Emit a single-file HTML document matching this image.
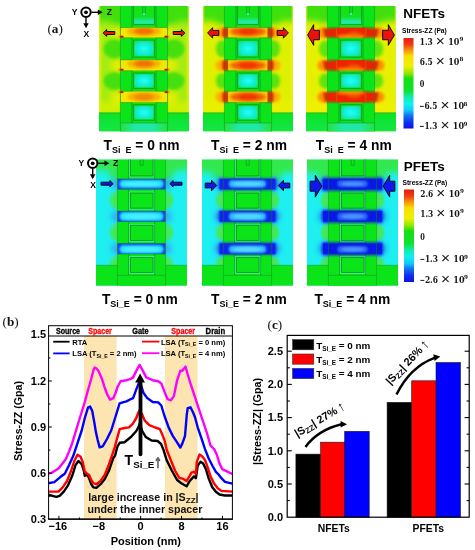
<!DOCTYPE html>
<html><head><meta charset="utf-8"><title>Stress figure</title>
<style>html,body{margin:0;padding:0;background:#fff;}svg{display:block;}</style></head>
<body><svg width="475" height="550" viewBox="0 0 475 550">
<defs>
<filter id="bl3" x="-20%" y="-20%" width="140%" height="140%"><feGaussianBlur stdDeviation="3"/></filter>
<filter id="bl1" x="-50%" y="-50%" width="200%" height="200%"><feGaussianBlur stdDeviation="0.9"/></filter>
<filter id="bl05" x="-50%" y="-50%" width="200%" height="200%"><feGaussianBlur stdDeviation="0.5"/></filter>
<radialGradient id="gcyanr" cx="0.5" cy="0.5" r="0.6"><stop offset="0" stop-color="#28fff0"/><stop offset="0.55" stop-color="#10f0dc"/><stop offset="0.85" stop-color="#12e8b0"/><stop offset="1" stop-color="#14e280"/></radialGradient>
<linearGradient id="gtopc" x1="0" y1="0" x2="0" y2="1"><stop offset="0" stop-color="#14e214"/><stop offset="0.6" stop-color="#14e220"/><stop offset="0.85" stop-color="#20eaa8"/><stop offset="1" stop-color="#20e890"/></linearGradient>
<filter id="bl15" x="-50%" y="-50%" width="200%" height="200%"><feGaussianBlur stdDeviation="1.2"/></filter>
<linearGradient id="gsdN" x1="0" y1="0" x2="0" y2="1"><stop offset="0" stop-color="#0ce424"/><stop offset="1" stop-color="#12e648"/></linearGradient>
<filter id="bl2" x="-30%" y="-30%" width="160%" height="160%"><feGaussianBlur stdDeviation="1.6"/></filter>
<linearGradient id="gcyan" x1="0" y1="0" x2="0" y2="1"><stop offset="0" stop-color="#20e8b0"/><stop offset="0.25" stop-color="#10ecd8"/><stop offset="0.75" stop-color="#10ecd8"/><stop offset="1" stop-color="#20e8b0"/></linearGradient>
<linearGradient id="gbotN" x1="0" y1="0" x2="1" y2="0"><stop offset="0" stop-color="#28e040"/><stop offset="0.3" stop-color="#20e8a8"/><stop offset="0.7" stop-color="#20e8a8"/><stop offset="1" stop-color="#28e040"/></linearGradient>
<linearGradient id="cbar" x1="0" y1="0" x2="0" y2="1"><stop offset="0" stop-color="#e81c10"/><stop offset="0.07" stop-color="#f03c10"/><stop offset="0.13" stop-color="#f88c10"/><stop offset="0.2" stop-color="#f8e000"/><stop offset="0.31" stop-color="#eef000"/><stop offset="0.39" stop-color="#90e800"/><stop offset="0.45" stop-color="#14e010"/><stop offset="0.58" stop-color="#10e030"/><stop offset="0.66" stop-color="#10eeb0"/><stop offset="0.73" stop-color="#10f0f0"/><stop offset="0.8" stop-color="#10c8f8"/><stop offset="0.86" stop-color="#1070f0"/><stop offset="0.93" stop-color="#1030f0"/><stop offset="1" stop-color="#1010e8"/></linearGradient>
<clipPath id="cpN0"><rect width="90" height="125.6"/></clipPath>
<clipPath id="cpN0_b0"><rect x="21.4" y="21.6" width="47.2" height="10.2"/></clipPath>
<clipPath id="cpN0_b1"><rect x="21.4" y="53.9" width="47.2" height="10.9"/></clipPath>
<clipPath id="cpN0_b2"><rect x="21.4" y="85.2" width="47.2" height="11.4"/></clipPath>
<clipPath id="cpN1"><rect width="90" height="125.6"/></clipPath>
<clipPath id="cpN1_b0"><rect x="25" y="21.6" width="39.7" height="10.2"/></clipPath>
<clipPath id="cpN1_b1"><rect x="25" y="53.9" width="39.7" height="10.9"/></clipPath>
<clipPath id="cpN1_b2"><rect x="25" y="85.2" width="39.7" height="11.4"/></clipPath>
<clipPath id="cpN2"><rect width="90" height="125.6"/></clipPath>
<clipPath id="cpN2_b0"><rect x="30.5" y="21.6" width="29.4" height="10.2"/></clipPath>
<clipPath id="cpN2_b1"><rect x="30.5" y="53.9" width="29.4" height="10.9"/></clipPath>
<clipPath id="cpN2_b2"><rect x="30.5" y="85.2" width="29.4" height="11.4"/></clipPath>
<clipPath id="cpP0"><rect width="91" height="126.3"/></clipPath>
<clipPath id="cpP0_b0"><rect x="21.4" y="19.4" width="48.2" height="10.6"/></clipPath>
<clipPath id="cpP0_b1"><rect x="21.4" y="51.6" width="48.2" height="10.6"/></clipPath>
<clipPath id="cpP0_b2"><rect x="21.4" y="83.8" width="48.2" height="10.8"/></clipPath>
<clipPath id="cpP1"><rect width="91" height="126.3"/></clipPath>
<clipPath id="cpP1_b0"><rect x="17.4" y="19.4" width="56.2" height="10.6"/></clipPath>
<clipPath id="cpP1_b1"><rect x="17.4" y="51.6" width="56.2" height="10.6"/></clipPath>
<clipPath id="cpP1_b2"><rect x="17.4" y="83.8" width="56.2" height="10.8"/></clipPath>
<clipPath id="cpP2"><rect width="91" height="126.3"/></clipPath>
<clipPath id="cpP2_b0"><rect x="15.9" y="19.4" width="59.2" height="10.6"/></clipPath>
<clipPath id="cpP2_b1"><rect x="15.9" y="51.6" width="59.2" height="10.6"/></clipPath>
<clipPath id="cpP2_b2"><rect x="15.9" y="83.8" width="59.2" height="10.8"/></clipPath>
<clipPath id="pclip"><rect x="48.6" y="336" width="183.8" height="183.2"/></clipPath>
</defs>
<rect width="475" height="550" fill="#fff"/>
<g transform="translate(99,6)">
<g clip-path="url(#cpN0)">
<rect width="90" height="125.6" fill="#a4ec10"/>
<g filter="url(#bl3)">
<rect x="-10" y="-10" width="110" height="25" fill="#40e010"/>
<ellipse cx="21.4" cy="10" rx="10" ry="13" fill="#40e010"/>
<ellipse cx="68.6" cy="10" rx="10" ry="13" fill="#40e010"/>
<ellipse cx="20.4" cy="26.7" rx="9" ry="6" fill="#e8f000"/>
<ellipse cx="69.6" cy="26.7" rx="9" ry="6" fill="#e8f000"/>
<ellipse cx="20.4" cy="59.35" rx="9" ry="6" fill="#e8f000"/>
<ellipse cx="69.6" cy="59.35" rx="9" ry="6" fill="#e8f000"/>
<ellipse cx="20.4" cy="90.9" rx="9" ry="6" fill="#e8f000"/>
<ellipse cx="69.6" cy="90.9" rx="9" ry="6" fill="#e8f000"/>
<rect x="-5" y="95.8" width="100" height="12" fill="#d0f000"/>
</g>
<g filter="url(#bl2)">
<ellipse cx="15.4" cy="42.85" rx="11" ry="9.55" fill="#44e010"/>
<ellipse cx="74.6" cy="42.85" rx="11" ry="9.55" fill="#44e010"/>
<ellipse cx="15.4" cy="75" rx="11" ry="8.7" fill="#44e010"/>
<ellipse cx="74.6" cy="75" rx="11" ry="8.7" fill="#44e010"/>
<rect x="-3" y="20" width="5" height="86.8" fill="#d4f000"/>
<rect x="88" y="20" width="5" height="86.8" fill="#d4f000"/>
</g>
<rect x="0" y="0" width="1.3" height="106.8" fill="#d8f030" opacity="0.7"/>
<rect x="88.7" y="0" width="1.3" height="106.8" fill="#d8f030" opacity="0.7"/>
<rect x="0" y="106.8" width="90" height="18.8" fill="url(#gsdN)"/>
<rect x="21.4" y="0" width="47.2" height="125.6" fill="#0ce41a"/>
<line x1="33" y1="-1" x2="33" y2="21.6" stroke="#128a1e" stroke-width="0.7"/>
<line x1="57" y1="-1" x2="57" y2="21.6" stroke="#128a1e" stroke-width="0.7"/>
<rect x="34.7" y="-1" width="20.6" height="19.4" fill="url(#gtopc)" stroke="#128a1e" stroke-width="0.7"/>
<line x1="33" y1="31.8" x2="33" y2="53.9" stroke="#128a1e" stroke-width="0.7"/>
<line x1="57" y1="31.8" x2="57" y2="53.9" stroke="#128a1e" stroke-width="0.7"/>
<rect x="34.7" y="34" width="20.6" height="17.1" fill="#0ce41a" stroke="#128a1e" stroke-width="0.7"/>
<rect x="35.4" y="35.2" width="19.2" height="14.9" fill="url(#gcyanr)"/>
<line x1="33" y1="64.8" x2="33" y2="85.2" stroke="#128a1e" stroke-width="0.7"/>
<line x1="57" y1="64.8" x2="57" y2="85.2" stroke="#128a1e" stroke-width="0.7"/>
<rect x="34.7" y="67" width="20.6" height="15.4" fill="#0ce41a" stroke="#128a1e" stroke-width="0.7"/>
<rect x="35.4" y="68.2" width="19.2" height="13.2" fill="url(#gcyanr)"/>
<line x1="33" y1="96.6" x2="33" y2="117" stroke="#128a1e" stroke-width="0.7"/>
<line x1="57" y1="96.6" x2="57" y2="117" stroke="#128a1e" stroke-width="0.7"/>
<rect x="34.7" y="98.8" width="20.6" height="15.4" fill="#0ce41a" stroke="#128a1e" stroke-width="0.7"/>
<rect x="35.4" y="100" width="19.2" height="13.2" fill="url(#gcyanr)"/>
<line x1="43.7" y1="-1" x2="43.7" y2="8" stroke="#128a1e" stroke-width="0.6"/>
<line x1="46.3" y1="-1" x2="46.3" y2="8" stroke="#128a1e" stroke-width="0.6"/>
<ellipse cx="45" cy="8" rx="1.3" ry="1" fill="#30f0e0" filter="url(#bl05)"/>
<rect x="21.4" y="117" width="47.2" height="8.6" fill="url(#gbotN)"/>
<g clip-path="url(#cpN0_b0)">
<rect x="21.4" y="21.6" width="47.2" height="10.2" fill="#f4e800"/>
<g filter="url(#bl2)">
<ellipse cx="45" cy="25.2" rx="17" ry="5" fill="#f4b000"/>
<ellipse cx="45" cy="25.2" rx="10" ry="3.6" fill="#f07000"/>
</g></g>
<g filter="url(#bl05)">
<ellipse cx="21.9" cy="30.8" rx="3" ry="1.8" fill="#f0a000" opacity="0.6"/>
<ellipse cx="68.1" cy="30.8" rx="3" ry="1.8" fill="#f0a000" opacity="0.6"/>
<ellipse cx="22.6" cy="30.8" rx="2.0" ry="1.0" fill="#d80000"/>
<ellipse cx="67.4" cy="30.8" rx="2.0" ry="1.0" fill="#d80000"/>
</g>
<rect x="21.4" y="21.6" width="47.2" height="10.2" fill="none" stroke="#b08000" stroke-opacity="0.45" stroke-width="0.6"/>
<g clip-path="url(#cpN0_b1)">
<rect x="21.4" y="53.9" width="47.2" height="10.9" fill="#f4e800"/>
<g filter="url(#bl2)">
<ellipse cx="45" cy="57.7" rx="17" ry="5" fill="#f4b000"/>
<ellipse cx="45" cy="57.7" rx="10" ry="3.6" fill="#f07000"/>
</g></g>
<g filter="url(#bl05)">
<ellipse cx="21.9" cy="63.8" rx="3" ry="1.8" fill="#f0a000" opacity="0.6"/>
<ellipse cx="68.1" cy="63.8" rx="3" ry="1.8" fill="#f0a000" opacity="0.6"/>
<ellipse cx="22.6" cy="63.8" rx="2.0" ry="1.0" fill="#d80000"/>
<ellipse cx="67.4" cy="63.8" rx="2.0" ry="1.0" fill="#d80000"/>
</g>
<rect x="21.4" y="53.9" width="47.2" height="10.9" fill="none" stroke="#b08000" stroke-opacity="0.45" stroke-width="0.6"/>
<g clip-path="url(#cpN0_b2)">
<rect x="21.4" y="85.2" width="47.2" height="11.4" fill="#f4e800"/>
<g filter="url(#bl2)">
<ellipse cx="45" cy="90.9" rx="17" ry="5" fill="#f4b000"/>
<ellipse cx="45" cy="90.9" rx="10" ry="3.6" fill="#f08800"/>
</g></g>
<g filter="url(#bl05)">
<ellipse cx="21.9" cy="86.1" rx="3" ry="1.8" fill="#f0a000" opacity="0.6"/>
<ellipse cx="68.1" cy="86.1" rx="3" ry="1.8" fill="#f0a000" opacity="0.6"/>
<ellipse cx="22.6" cy="86.1" rx="2.0" ry="1.0" fill="#d80000"/>
<ellipse cx="67.4" cy="86.1" rx="2.0" ry="1.0" fill="#d80000"/>
</g>
<rect x="21.4" y="85.2" width="47.2" height="11.4" fill="none" stroke="#b08000" stroke-opacity="0.45" stroke-width="0.6"/>
<line x1="21.4" y1="0" x2="21.4" y2="125.6" stroke="#128a1e" stroke-width="0.6" stroke-opacity="0.8"/>
<line x1="68.6" y1="0" x2="68.6" y2="125.6" stroke="#128a1e" stroke-width="0.6" stroke-opacity="0.8"/>
<line x1="21.4" y1="21.6" x2="33" y2="21.6" stroke="#128a1e" stroke-width="0.5" stroke-opacity="0.55"/>
<line x1="57" y1="21.6" x2="68.6" y2="21.6" stroke="#128a1e" stroke-width="0.5" stroke-opacity="0.55"/>
<line x1="21.4" y1="31.8" x2="33" y2="31.8" stroke="#128a1e" stroke-width="0.5" stroke-opacity="0.55"/>
<line x1="57" y1="31.8" x2="68.6" y2="31.8" stroke="#128a1e" stroke-width="0.5" stroke-opacity="0.55"/>
<line x1="21.4" y1="53.9" x2="33" y2="53.9" stroke="#128a1e" stroke-width="0.5" stroke-opacity="0.55"/>
<line x1="57" y1="53.9" x2="68.6" y2="53.9" stroke="#128a1e" stroke-width="0.5" stroke-opacity="0.55"/>
<line x1="21.4" y1="64.8" x2="33" y2="64.8" stroke="#128a1e" stroke-width="0.5" stroke-opacity="0.55"/>
<line x1="57" y1="64.8" x2="68.6" y2="64.8" stroke="#128a1e" stroke-width="0.5" stroke-opacity="0.55"/>
<line x1="21.4" y1="85.2" x2="33" y2="85.2" stroke="#128a1e" stroke-width="0.5" stroke-opacity="0.55"/>
<line x1="57" y1="85.2" x2="68.6" y2="85.2" stroke="#128a1e" stroke-width="0.5" stroke-opacity="0.55"/>
<line x1="21.4" y1="96.6" x2="33" y2="96.6" stroke="#128a1e" stroke-width="0.5" stroke-opacity="0.55"/>
<line x1="57" y1="96.6" x2="68.6" y2="96.6" stroke="#128a1e" stroke-width="0.5" stroke-opacity="0.55"/>
<line x1="0" y1="106.8" x2="21.4" y2="106.8" stroke="#128a1e" stroke-width="0.6" stroke-opacity="0.8"/>
<line x1="68.6" y1="106.8" x2="90" y2="106.8" stroke="#128a1e" stroke-width="0.6" stroke-opacity="0.8"/>
<line x1="21.4" y1="117" x2="68.6" y2="117" stroke="#128a1e" stroke-width="0.6" stroke-opacity="0.8"/>
</g>
<polygon points="4.1,27 7.7,23.6 7.7,25.5 15.8,25.5 15.8,28.5 7.7,28.5 7.7,30.4" fill="#ec1010" stroke="#000" stroke-width="0.9" stroke-linejoin="miter"/>
<polygon points="85.9,27 82.3,23.6 82.3,25.5 74.2,25.5 74.2,28.5 82.3,28.5 82.3,30.4" fill="#ec1010" stroke="#000" stroke-width="0.9"/>
</g>
<g transform="translate(203,6)">
<g clip-path="url(#cpN1)">
<rect width="90" height="125.6" fill="#dcf000"/>
<g filter="url(#bl3)">
<rect x="-10" y="-10" width="110" height="25" fill="#40e010"/>
<ellipse cx="21.4" cy="10" rx="10" ry="13" fill="#40e010"/>
<ellipse cx="68.6" cy="10" rx="10" ry="13" fill="#40e010"/>
<ellipse cx="20.4" cy="26.7" rx="10" ry="7" fill="#f4f000"/>
<ellipse cx="69.6" cy="26.7" rx="10" ry="7" fill="#f4f000"/>
<ellipse cx="20.4" cy="59.35" rx="10" ry="7" fill="#f4f000"/>
<ellipse cx="69.6" cy="59.35" rx="10" ry="7" fill="#f4f000"/>
<ellipse cx="20.4" cy="90.9" rx="10" ry="7" fill="#f4f000"/>
<ellipse cx="69.6" cy="90.9" rx="10" ry="7" fill="#f4f000"/>
<rect x="-5" y="95.8" width="100" height="12" fill="#eaf000"/>
</g>
<g filter="url(#bl2)">
<ellipse cx="19.4" cy="42.85" rx="6.5" ry="8.85" fill="#58e410"/>
<ellipse cx="70.6" cy="42.85" rx="6.5" ry="8.85" fill="#58e410"/>
<ellipse cx="19.4" cy="75" rx="6.5" ry="8" fill="#58e410"/>
<ellipse cx="70.6" cy="75" rx="6.5" ry="8" fill="#58e410"/>
<rect x="-3" y="20" width="5" height="86.8" fill="#eef000"/>
<rect x="88" y="20" width="5" height="86.8" fill="#eef000"/>
<ellipse cx="17.4" cy="26.7" rx="5" ry="5.5" fill="#f8b000"/>
<ellipse cx="72.6" cy="26.7" rx="5" ry="5.5" fill="#f8b000"/>
<ellipse cx="17.4" cy="59.35" rx="5" ry="5.5" fill="#f8b000"/>
<ellipse cx="72.6" cy="59.35" rx="5" ry="5.5" fill="#f8b000"/>
<ellipse cx="17.4" cy="90.9" rx="5" ry="5.5" fill="#f8b000"/>
<ellipse cx="72.6" cy="90.9" rx="5" ry="5.5" fill="#f8b000"/>
</g>
<rect x="0" y="0" width="1.3" height="106.8" fill="#d8f030" opacity="0.7"/>
<rect x="88.7" y="0" width="1.3" height="106.8" fill="#d8f030" opacity="0.7"/>
<rect x="0" y="106.8" width="90" height="18.8" fill="url(#gsdN)"/>
<rect x="21.4" y="0" width="47.2" height="125.6" fill="#0ce41a"/>
<line x1="33" y1="-1" x2="33" y2="21.6" stroke="#128a1e" stroke-width="0.7"/>
<line x1="57" y1="-1" x2="57" y2="21.6" stroke="#128a1e" stroke-width="0.7"/>
<rect x="34.7" y="-1" width="20.6" height="19.4" fill="url(#gtopc)" stroke="#128a1e" stroke-width="0.7"/>
<line x1="33" y1="31.8" x2="33" y2="53.9" stroke="#128a1e" stroke-width="0.7"/>
<line x1="57" y1="31.8" x2="57" y2="53.9" stroke="#128a1e" stroke-width="0.7"/>
<rect x="34.7" y="34" width="20.6" height="17.1" fill="#0ce41a" stroke="#128a1e" stroke-width="0.7"/>
<rect x="35.4" y="35.2" width="19.2" height="14.9" fill="url(#gcyanr)"/>
<line x1="33" y1="64.8" x2="33" y2="85.2" stroke="#128a1e" stroke-width="0.7"/>
<line x1="57" y1="64.8" x2="57" y2="85.2" stroke="#128a1e" stroke-width="0.7"/>
<rect x="34.7" y="67" width="20.6" height="15.4" fill="#0ce41a" stroke="#128a1e" stroke-width="0.7"/>
<rect x="35.4" y="68.2" width="19.2" height="13.2" fill="url(#gcyanr)"/>
<line x1="33" y1="96.6" x2="33" y2="117" stroke="#128a1e" stroke-width="0.7"/>
<line x1="57" y1="96.6" x2="57" y2="117" stroke="#128a1e" stroke-width="0.7"/>
<rect x="34.7" y="98.8" width="20.6" height="15.4" fill="#0ce41a" stroke="#128a1e" stroke-width="0.7"/>
<rect x="35.4" y="100" width="19.2" height="13.2" fill="url(#gcyanr)"/>
<line x1="43.7" y1="-1" x2="43.7" y2="8" stroke="#128a1e" stroke-width="0.6"/>
<line x1="46.3" y1="-1" x2="46.3" y2="8" stroke="#128a1e" stroke-width="0.6"/>
<ellipse cx="45" cy="8" rx="1.3" ry="1" fill="#30f0e0" filter="url(#bl05)"/>
<rect x="21.4" y="117" width="47.2" height="8.6" fill="url(#gbotN)"/>
<g filter="url(#bl15)">
<rect x="19.3" y="21.8" width="6.7" height="9.8" rx="2" fill="#e82800"/>
<rect x="63.7" y="21.8" width="6.9" height="9.8" rx="2" fill="#e82800"/>
</g>
<g clip-path="url(#cpN1_b0)">
<rect x="25" y="21.6" width="39.7" height="10.2" fill="#f8d000"/>
<g filter="url(#bl2)">
<ellipse cx="45" cy="25.6" rx="18" ry="4.8" fill="#f06000"/>
<ellipse cx="45" cy="25.6" rx="10" ry="3.2" fill="#f03000"/>
</g></g>
<rect x="25" y="21.6" width="39.7" height="10.2" fill="none" stroke="#b08000" stroke-opacity="0.45" stroke-width="0.6"/>
<g filter="url(#bl15)">
<rect x="19.3" y="54.1" width="6.7" height="10.5" rx="2" fill="#e82800"/>
<rect x="63.7" y="54.1" width="6.9" height="10.5" rx="2" fill="#e82800"/>
</g>
<g clip-path="url(#cpN1_b1)">
<rect x="25" y="53.9" width="39.7" height="10.9" fill="#f8d000"/>
<g filter="url(#bl2)">
<ellipse cx="45" cy="59.35" rx="18" ry="4.8" fill="#f06000"/>
<ellipse cx="45" cy="59.35" rx="10" ry="3.2" fill="#f03000"/>
</g></g>
<rect x="25" y="53.9" width="39.7" height="10.9" fill="none" stroke="#b08000" stroke-opacity="0.45" stroke-width="0.6"/>
<g filter="url(#bl15)">
<rect x="19.3" y="85.4" width="6.7" height="11" rx="2" fill="#e82800"/>
<rect x="63.7" y="85.4" width="6.9" height="11" rx="2" fill="#e82800"/>
</g>
<g clip-path="url(#cpN1_b2)">
<rect x="25" y="85.2" width="39.7" height="11.4" fill="#f8d000"/>
<g filter="url(#bl2)">
<ellipse cx="45" cy="90.9" rx="18" ry="4.8" fill="#f06000"/>
<ellipse cx="45" cy="90.9" rx="10" ry="3.2" fill="#f03000"/>
</g></g>
<rect x="25" y="85.2" width="39.7" height="11.4" fill="none" stroke="#b08000" stroke-opacity="0.45" stroke-width="0.6"/>
<line x1="21.4" y1="0" x2="21.4" y2="125.6" stroke="#128a1e" stroke-width="0.6" stroke-opacity="0.8"/>
<line x1="68.6" y1="0" x2="68.6" y2="125.6" stroke="#128a1e" stroke-width="0.6" stroke-opacity="0.8"/>
<line x1="21.4" y1="21.6" x2="33" y2="21.6" stroke="#128a1e" stroke-width="0.5" stroke-opacity="0.55"/>
<line x1="57" y1="21.6" x2="68.6" y2="21.6" stroke="#128a1e" stroke-width="0.5" stroke-opacity="0.55"/>
<line x1="21.4" y1="31.8" x2="33" y2="31.8" stroke="#128a1e" stroke-width="0.5" stroke-opacity="0.55"/>
<line x1="57" y1="31.8" x2="68.6" y2="31.8" stroke="#128a1e" stroke-width="0.5" stroke-opacity="0.55"/>
<line x1="21.4" y1="53.9" x2="33" y2="53.9" stroke="#128a1e" stroke-width="0.5" stroke-opacity="0.55"/>
<line x1="57" y1="53.9" x2="68.6" y2="53.9" stroke="#128a1e" stroke-width="0.5" stroke-opacity="0.55"/>
<line x1="21.4" y1="64.8" x2="33" y2="64.8" stroke="#128a1e" stroke-width="0.5" stroke-opacity="0.55"/>
<line x1="57" y1="64.8" x2="68.6" y2="64.8" stroke="#128a1e" stroke-width="0.5" stroke-opacity="0.55"/>
<line x1="21.4" y1="85.2" x2="33" y2="85.2" stroke="#128a1e" stroke-width="0.5" stroke-opacity="0.55"/>
<line x1="57" y1="85.2" x2="68.6" y2="85.2" stroke="#128a1e" stroke-width="0.5" stroke-opacity="0.55"/>
<line x1="21.4" y1="96.6" x2="33" y2="96.6" stroke="#128a1e" stroke-width="0.5" stroke-opacity="0.55"/>
<line x1="57" y1="96.6" x2="68.6" y2="96.6" stroke="#128a1e" stroke-width="0.5" stroke-opacity="0.55"/>
<line x1="0" y1="106.8" x2="21.4" y2="106.8" stroke="#128a1e" stroke-width="0.6" stroke-opacity="0.8"/>
<line x1="68.6" y1="106.8" x2="90" y2="106.8" stroke="#128a1e" stroke-width="0.6" stroke-opacity="0.8"/>
<line x1="21.4" y1="117" x2="68.6" y2="117" stroke="#128a1e" stroke-width="0.6" stroke-opacity="0.8"/>
</g>
<polygon points="4.6,26.9 9.6,21.65 9.6,24.4 15.9,24.4 15.9,29.4 9.6,29.4 9.6,32.15" fill="#ec1010" stroke="#000" stroke-width="0.9" stroke-linejoin="miter"/>
<polygon points="85.4,26.9 80.4,21.65 80.4,24.4 74.1,24.4 74.1,29.4 80.4,29.4 80.4,32.15" fill="#ec1010" stroke="#000" stroke-width="0.9"/>
</g>
<g transform="translate(306,6)">
<g clip-path="url(#cpN2)">
<rect width="90" height="125.6" fill="#e4f000"/>
<g filter="url(#bl3)">
<rect x="-10" y="-10" width="110" height="25" fill="#40e010"/>
<ellipse cx="21.4" cy="10" rx="10" ry="13" fill="#40e010"/>
<ellipse cx="68.6" cy="10" rx="10" ry="13" fill="#40e010"/>
<ellipse cx="20.4" cy="26.7" rx="12" ry="8" fill="#f6f000"/>
<ellipse cx="69.6" cy="26.7" rx="12" ry="8" fill="#f6f000"/>
<ellipse cx="20.4" cy="59.35" rx="12" ry="8" fill="#f6f000"/>
<ellipse cx="69.6" cy="59.35" rx="12" ry="8" fill="#f6f000"/>
<ellipse cx="20.4" cy="90.9" rx="12" ry="8" fill="#f6f000"/>
<ellipse cx="69.6" cy="90.9" rx="12" ry="8" fill="#f6f000"/>
<rect x="-5" y="95.8" width="100" height="12" fill="#f0f000"/>
</g>
<g filter="url(#bl2)">
<ellipse cx="19.4" cy="42.85" rx="6.5" ry="8.55" fill="#60e410"/>
<ellipse cx="70.6" cy="42.85" rx="6.5" ry="8.55" fill="#60e410"/>
<ellipse cx="19.4" cy="75" rx="6.5" ry="7.7" fill="#60e410"/>
<ellipse cx="70.6" cy="75" rx="6.5" ry="7.7" fill="#60e410"/>
<rect x="-3" y="20" width="5" height="86.8" fill="#f0f000"/>
<rect x="88" y="20" width="5" height="86.8" fill="#f0f000"/>
<ellipse cx="17.4" cy="26.7" rx="6" ry="5.5" fill="#f89000"/>
<ellipse cx="72.6" cy="26.7" rx="6" ry="5.5" fill="#f89000"/>
<ellipse cx="17.4" cy="59.35" rx="6" ry="5.5" fill="#f89000"/>
<ellipse cx="72.6" cy="59.35" rx="6" ry="5.5" fill="#f89000"/>
<ellipse cx="17.4" cy="90.9" rx="6" ry="5.5" fill="#f89000"/>
<ellipse cx="72.6" cy="90.9" rx="6" ry="5.5" fill="#f89000"/>
</g>
<rect x="0" y="0" width="1.3" height="106.8" fill="#d8f030" opacity="0.7"/>
<rect x="88.7" y="0" width="1.3" height="106.8" fill="#d8f030" opacity="0.7"/>
<rect x="0" y="106.8" width="90" height="18.8" fill="url(#gsdN)"/>
<rect x="21.4" y="0" width="47.2" height="125.6" fill="#0ce41a"/>
<line x1="33" y1="-1" x2="33" y2="21.6" stroke="#128a1e" stroke-width="0.7"/>
<line x1="57" y1="-1" x2="57" y2="21.6" stroke="#128a1e" stroke-width="0.7"/>
<rect x="34.7" y="-1" width="20.6" height="19.4" fill="url(#gtopc)" stroke="#128a1e" stroke-width="0.7"/>
<line x1="33" y1="31.8" x2="33" y2="53.9" stroke="#128a1e" stroke-width="0.7"/>
<line x1="57" y1="31.8" x2="57" y2="53.9" stroke="#128a1e" stroke-width="0.7"/>
<rect x="34.7" y="34" width="20.6" height="17.1" fill="#0ce41a" stroke="#128a1e" stroke-width="0.7"/>
<rect x="35.4" y="35.2" width="19.2" height="14.9" fill="url(#gcyanr)"/>
<line x1="33" y1="64.8" x2="33" y2="85.2" stroke="#128a1e" stroke-width="0.7"/>
<line x1="57" y1="64.8" x2="57" y2="85.2" stroke="#128a1e" stroke-width="0.7"/>
<rect x="34.7" y="67" width="20.6" height="15.4" fill="#0ce41a" stroke="#128a1e" stroke-width="0.7"/>
<rect x="35.4" y="68.2" width="19.2" height="13.2" fill="url(#gcyanr)"/>
<line x1="33" y1="96.6" x2="33" y2="117" stroke="#128a1e" stroke-width="0.7"/>
<line x1="57" y1="96.6" x2="57" y2="117" stroke="#128a1e" stroke-width="0.7"/>
<rect x="34.7" y="98.8" width="20.6" height="15.4" fill="#0ce41a" stroke="#128a1e" stroke-width="0.7"/>
<rect x="35.4" y="100" width="19.2" height="13.2" fill="url(#gcyanr)"/>
<line x1="43.7" y1="-1" x2="43.7" y2="8" stroke="#128a1e" stroke-width="0.6"/>
<line x1="46.3" y1="-1" x2="46.3" y2="8" stroke="#128a1e" stroke-width="0.6"/>
<ellipse cx="45" cy="8" rx="1.3" ry="1" fill="#30f0e0" filter="url(#bl05)"/>
<rect x="21.4" y="117" width="47.2" height="8.6" fill="url(#gbotN)"/>
<g filter="url(#bl15)">
<path d="M31.5,21.8 L17,22.8 L19,31.3 L31.5,31.6 Z" fill="#ea2000"/>
<path d="M58.9,21.8 L72.7,22.8 L70.7,31.3 L58.9,31.6 Z" fill="#ea2000"/>
</g>
<g clip-path="url(#cpN2_b0)">
<rect x="30.5" y="21.6" width="29.4" height="10.2" fill="#f89800"/>
<g filter="url(#bl2)">
<rect x="28.5" y="19.6" width="33.4" height="14.2" fill="#f02400"/>
<ellipse cx="45" cy="31" rx="13.7" ry="1.8" fill="#f8a000"/>
<ellipse cx="48" cy="28.2" rx="6" ry="2.4" fill="#f06000" opacity="0.8"/>
</g></g>
<rect x="30.5" y="21.6" width="29.4" height="10.2" fill="none" stroke="#b08000" stroke-opacity="0.45" stroke-width="0.6"/>
<g filter="url(#bl15)">
<path d="M31.5,54.1 L17,55.1 L19,64.3 L31.5,64.6 Z" fill="#ea2000"/>
<path d="M58.9,54.1 L72.7,55.1 L70.7,64.3 L58.9,64.6 Z" fill="#ea2000"/>
</g>
<g clip-path="url(#cpN2_b1)">
<rect x="30.5" y="53.9" width="29.4" height="10.9" fill="#f89800"/>
<g filter="url(#bl2)">
<rect x="28.5" y="51.9" width="33.4" height="14.9" fill="#f02400"/>
<ellipse cx="45" cy="64" rx="13.7" ry="1.8" fill="#f8a000"/>
<ellipse cx="48" cy="60.85" rx="6" ry="2.4" fill="#f06000" opacity="0.8"/>
</g></g>
<rect x="30.5" y="53.9" width="29.4" height="10.9" fill="none" stroke="#b08000" stroke-opacity="0.45" stroke-width="0.6"/>
<g filter="url(#bl15)">
<path d="M31.5,85.4 L17,86.4 L19,96.1 L31.5,96.4 Z" fill="#ea2000"/>
<path d="M58.9,85.4 L72.7,86.4 L70.7,96.1 L58.9,96.4 Z" fill="#ea2000"/>
</g>
<g clip-path="url(#cpN2_b2)">
<rect x="30.5" y="85.2" width="29.4" height="11.4" fill="#f89800"/>
<g filter="url(#bl2)">
<rect x="28.5" y="83.2" width="33.4" height="15.4" fill="#f02400"/>
<ellipse cx="45" cy="86" rx="13.7" ry="1.8" fill="#f8a000"/>
<ellipse cx="48" cy="89.4" rx="6" ry="2.4" fill="#f06000" opacity="0.8"/>
</g></g>
<rect x="30.5" y="85.2" width="29.4" height="11.4" fill="none" stroke="#b08000" stroke-opacity="0.45" stroke-width="0.6"/>
<line x1="21.4" y1="0" x2="21.4" y2="125.6" stroke="#128a1e" stroke-width="0.6" stroke-opacity="0.8"/>
<line x1="68.6" y1="0" x2="68.6" y2="125.6" stroke="#128a1e" stroke-width="0.6" stroke-opacity="0.8"/>
<line x1="21.4" y1="21.6" x2="33" y2="21.6" stroke="#128a1e" stroke-width="0.5" stroke-opacity="0.55"/>
<line x1="57" y1="21.6" x2="68.6" y2="21.6" stroke="#128a1e" stroke-width="0.5" stroke-opacity="0.55"/>
<line x1="21.4" y1="31.8" x2="33" y2="31.8" stroke="#128a1e" stroke-width="0.5" stroke-opacity="0.55"/>
<line x1="57" y1="31.8" x2="68.6" y2="31.8" stroke="#128a1e" stroke-width="0.5" stroke-opacity="0.55"/>
<line x1="21.4" y1="53.9" x2="33" y2="53.9" stroke="#128a1e" stroke-width="0.5" stroke-opacity="0.55"/>
<line x1="57" y1="53.9" x2="68.6" y2="53.9" stroke="#128a1e" stroke-width="0.5" stroke-opacity="0.55"/>
<line x1="21.4" y1="64.8" x2="33" y2="64.8" stroke="#128a1e" stroke-width="0.5" stroke-opacity="0.55"/>
<line x1="57" y1="64.8" x2="68.6" y2="64.8" stroke="#128a1e" stroke-width="0.5" stroke-opacity="0.55"/>
<line x1="21.4" y1="85.2" x2="33" y2="85.2" stroke="#128a1e" stroke-width="0.5" stroke-opacity="0.55"/>
<line x1="57" y1="85.2" x2="68.6" y2="85.2" stroke="#128a1e" stroke-width="0.5" stroke-opacity="0.55"/>
<line x1="21.4" y1="96.6" x2="33" y2="96.6" stroke="#128a1e" stroke-width="0.5" stroke-opacity="0.55"/>
<line x1="57" y1="96.6" x2="68.6" y2="96.6" stroke="#128a1e" stroke-width="0.5" stroke-opacity="0.55"/>
<line x1="0" y1="106.8" x2="21.4" y2="106.8" stroke="#128a1e" stroke-width="0.6" stroke-opacity="0.8"/>
<line x1="68.6" y1="106.8" x2="90" y2="106.8" stroke="#128a1e" stroke-width="0.6" stroke-opacity="0.8"/>
<line x1="21.4" y1="117" x2="68.6" y2="117" stroke="#128a1e" stroke-width="0.6" stroke-opacity="0.8"/>
</g>
<polygon points="1.6,29 7.7,18.65 7.7,24.25 13.4,24.25 13.4,33.75 7.7,33.75 7.7,39.35" fill="#ec1010" stroke="#000" stroke-width="0.9" stroke-linejoin="miter"/>
<polygon points="88.4,29 82.3,18.65 82.3,24.25 76.6,24.25 76.6,33.75 82.3,33.75 82.3,39.35" fill="#ec1010" stroke="#000" stroke-width="0.9"/>
</g>
<g transform="translate(96,159.5)">
<g clip-path="url(#cpP0)">
<rect width="91" height="126.3" fill="#1ef0f2"/>
<g filter="url(#bl3)">
<rect x="-10" y="-10" width="111" height="21" fill="#30e850"/>
<ellipse cx="21.4" cy="9" rx="9" ry="13" fill="#30e850"/>
<ellipse cx="69.6" cy="9" rx="9" ry="13" fill="#30e850"/>
</g>
<g filter="url(#bl2)">
<ellipse cx="19.9" cy="40.8" rx="6" ry="8.3" fill="#44e858"/>
<ellipse cx="71.1" cy="40.8" rx="6" ry="8.3" fill="#44e858"/>
<ellipse cx="19.9" cy="73" rx="6" ry="8.3" fill="#44e858"/>
<ellipse cx="71.1" cy="73" rx="6" ry="8.3" fill="#44e858"/>
<ellipse cx="19.9" cy="105.2" rx="6" ry="8.1" fill="#44e858"/>
<ellipse cx="71.1" cy="105.2" rx="6" ry="8.1" fill="#44e858"/>
</g>
<g filter="url(#bl3)">
<ellipse cx="20.4" cy="24.7" rx="4.5" ry="5.5" fill="#3c98f4"/>
<ellipse cx="70.6" cy="24.7" rx="4.5" ry="5.5" fill="#3c98f4"/>
<ellipse cx="20.4" cy="56.9" rx="4.5" ry="5.5" fill="#3c98f4"/>
<ellipse cx="70.6" cy="56.9" rx="4.5" ry="5.5" fill="#3c98f4"/>
<ellipse cx="20.4" cy="89.2" rx="4.5" ry="5.5" fill="#3c98f4"/>
<ellipse cx="70.6" cy="89.2" rx="4.5" ry="5.5" fill="#3c98f4"/>
</g>
<rect x="0" y="105.8" width="91" height="20.5" fill="#0ce41a"/>
<rect x="21.4" y="0" width="48.2" height="126.3" fill="#0ce41a"/>
<line x1="32.8" y1="-1" x2="32.8" y2="19.4" stroke="#128a1e" stroke-width="0.7"/>
<line x1="58.6" y1="-1" x2="58.6" y2="19.4" stroke="#128a1e" stroke-width="0.7"/>
<rect x="33.5" y="-2.1" width="24.4" height="19.6" fill="none" stroke="#58f0c8" stroke-width="0.8" opacity="0.8"/>
<rect x="34.4" y="-1" width="22.6" height="17.4" fill="none" stroke="#128a1e" stroke-width="0.7"/>
<line x1="32.8" y1="30" x2="32.8" y2="51.6" stroke="#128a1e" stroke-width="0.7"/>
<line x1="58.6" y1="30" x2="58.6" y2="51.6" stroke="#128a1e" stroke-width="0.7"/>
<rect x="33.5" y="32.5" width="24.4" height="17.2" fill="none" stroke="#58f0c8" stroke-width="0.8" opacity="0.8"/>
<rect x="34.4" y="33.6" width="22.6" height="15" fill="none" stroke="#128a1e" stroke-width="0.7"/>
<line x1="32.8" y1="62.2" x2="32.8" y2="83.8" stroke="#128a1e" stroke-width="0.7"/>
<line x1="58.6" y1="62.2" x2="58.6" y2="83.8" stroke="#128a1e" stroke-width="0.7"/>
<rect x="33.5" y="64.7" width="24.4" height="17.2" fill="none" stroke="#58f0c8" stroke-width="0.8" opacity="0.8"/>
<rect x="34.4" y="65.8" width="22.6" height="15" fill="none" stroke="#128a1e" stroke-width="0.7"/>
<line x1="32.8" y1="94.6" x2="32.8" y2="115.8" stroke="#128a1e" stroke-width="0.7"/>
<line x1="58.6" y1="94.6" x2="58.6" y2="115.8" stroke="#128a1e" stroke-width="0.7"/>
<rect x="33.5" y="97.1" width="24.4" height="16.8" fill="none" stroke="#58f0c8" stroke-width="0.8" opacity="0.8"/>
<rect x="34.4" y="98.2" width="22.6" height="14.6" fill="none" stroke="#128a1e" stroke-width="0.7"/>
<line x1="44.2" y1="-1" x2="44.2" y2="5.8" stroke="#128a1e" stroke-width="0.6"/>
<line x1="47.2" y1="-1" x2="47.2" y2="5.8" stroke="#128a1e" stroke-width="0.6"/>
<line x1="44.2" y1="5.8" x2="47.2" y2="5.8" stroke="#128a1e" stroke-width="0.6"/>
<rect x="21.4" y="115.8" width="48.2" height="10.5" fill="#0ce41a"/>
<g clip-path="url(#cpP0_b0)">
<rect x="21.4" y="19.4" width="48.2" height="10.6" fill="#1a3cf0"/>
<g filter="url(#bl1)">
<rect x="23.6" y="20.4" width="43.8" height="7.8" rx="3.9" fill="#20e4ff"/>
<ellipse cx="45.7" cy="24.3" rx="17.9" ry="2.9" fill="#40f0ff"/>
</g></g>
<rect x="21.4" y="19.4" width="48.2" height="10.6" fill="none" stroke="#0010a0" stroke-opacity="0.3" stroke-width="0.6"/>
<g clip-path="url(#cpP0_b1)">
<rect x="21.4" y="51.6" width="48.2" height="10.6" fill="#1a3cf0"/>
<g filter="url(#bl1)">
<rect x="23.6" y="52.6" width="43.8" height="8.6" rx="4.3" fill="#20e4ff"/>
<ellipse cx="45.7" cy="56.9" rx="17.9" ry="3.3" fill="#40f0ff"/>
</g></g>
<rect x="21.4" y="51.6" width="48.2" height="10.6" fill="none" stroke="#0010a0" stroke-opacity="0.3" stroke-width="0.6"/>
<g clip-path="url(#cpP0_b2)">
<rect x="21.4" y="83.8" width="48.2" height="10.8" fill="#1a3cf0"/>
<g filter="url(#bl1)">
<rect x="23.6" y="85.8" width="43.8" height="8.1" rx="4.05" fill="#20e4ff"/>
<ellipse cx="45.7" cy="89.85" rx="17.9" ry="3.05" fill="#40f0ff"/>
</g></g>
<rect x="21.4" y="83.8" width="48.2" height="10.8" fill="none" stroke="#0010a0" stroke-opacity="0.3" stroke-width="0.6"/>
<line x1="21.4" y1="0" x2="21.4" y2="126.3" stroke="#128a1e" stroke-width="0.6" stroke-opacity="0.8"/>
<line x1="69.6" y1="0" x2="69.6" y2="126.3" stroke="#128a1e" stroke-width="0.6" stroke-opacity="0.8"/>
<line x1="21.4" y1="19.4" x2="32.8" y2="19.4" stroke="#128a1e" stroke-width="0.5" stroke-opacity="0.55"/>
<line x1="58.6" y1="19.4" x2="69.6" y2="19.4" stroke="#128a1e" stroke-width="0.5" stroke-opacity="0.55"/>
<line x1="21.4" y1="30" x2="32.8" y2="30" stroke="#128a1e" stroke-width="0.5" stroke-opacity="0.55"/>
<line x1="58.6" y1="30" x2="69.6" y2="30" stroke="#128a1e" stroke-width="0.5" stroke-opacity="0.55"/>
<line x1="21.4" y1="51.6" x2="32.8" y2="51.6" stroke="#128a1e" stroke-width="0.5" stroke-opacity="0.55"/>
<line x1="58.6" y1="51.6" x2="69.6" y2="51.6" stroke="#128a1e" stroke-width="0.5" stroke-opacity="0.55"/>
<line x1="21.4" y1="62.2" x2="32.8" y2="62.2" stroke="#128a1e" stroke-width="0.5" stroke-opacity="0.55"/>
<line x1="58.6" y1="62.2" x2="69.6" y2="62.2" stroke="#128a1e" stroke-width="0.5" stroke-opacity="0.55"/>
<line x1="21.4" y1="83.8" x2="32.8" y2="83.8" stroke="#128a1e" stroke-width="0.5" stroke-opacity="0.55"/>
<line x1="58.6" y1="83.8" x2="69.6" y2="83.8" stroke="#128a1e" stroke-width="0.5" stroke-opacity="0.55"/>
<line x1="21.4" y1="94.6" x2="32.8" y2="94.6" stroke="#128a1e" stroke-width="0.5" stroke-opacity="0.55"/>
<line x1="58.6" y1="94.6" x2="69.6" y2="94.6" stroke="#128a1e" stroke-width="0.5" stroke-opacity="0.55"/>
<line x1="0" y1="105.8" x2="21.4" y2="105.8" stroke="#128a1e" stroke-width="0.6" stroke-opacity="0.8"/>
<line x1="69.6" y1="105.8" x2="91" y2="105.8" stroke="#128a1e" stroke-width="0.6" stroke-opacity="0.8"/>
<line x1="21.4" y1="115.8" x2="69.6" y2="115.8" stroke="#128a1e" stroke-width="0.6" stroke-opacity="0.8"/>
</g>
<polygon points="17.1,24.2 13.9,21.05 13.9,22.7 5,22.7 5,25.7 13.9,25.7 13.9,27.35" fill="#1018ec" stroke="#000" stroke-width="0.9"/>
<polygon points="73.9,24.2 77.1,21.05 77.1,22.7 86,22.7 86,25.7 77.1,25.7 77.1,27.35" fill="#1018ec" stroke="#000" stroke-width="0.9"/>
</g>
<g transform="translate(202,159.5)">
<g clip-path="url(#cpP1)">
<rect width="91" height="126.3" fill="#1ef0f2"/>
<g filter="url(#bl3)">
<rect x="-10" y="-10" width="111" height="23" fill="#30e850"/>
<ellipse cx="21.4" cy="9" rx="12" ry="13" fill="#30e850"/>
<ellipse cx="69.6" cy="9" rx="12" ry="13" fill="#30e850"/>
</g>
<g filter="url(#bl2)">
<ellipse cx="19.9" cy="40.8" rx="6" ry="8.3" fill="#44e858"/>
<ellipse cx="71.1" cy="40.8" rx="6" ry="8.3" fill="#44e858"/>
<ellipse cx="19.9" cy="73" rx="6" ry="8.3" fill="#44e858"/>
<ellipse cx="71.1" cy="73" rx="6" ry="8.3" fill="#44e858"/>
<ellipse cx="19.9" cy="105.2" rx="6" ry="8.1" fill="#44e858"/>
<ellipse cx="71.1" cy="105.2" rx="6" ry="8.1" fill="#44e858"/>
</g>
<g filter="url(#bl3)">
<ellipse cx="20.4" cy="24.7" rx="7" ry="5.5" fill="#2c70f0"/>
<ellipse cx="70.6" cy="24.7" rx="7" ry="5.5" fill="#2c70f0"/>
<ellipse cx="20.4" cy="56.9" rx="7" ry="5.5" fill="#2c70f0"/>
<ellipse cx="70.6" cy="56.9" rx="7" ry="5.5" fill="#2c70f0"/>
<ellipse cx="20.4" cy="89.2" rx="7" ry="5.5" fill="#2c70f0"/>
<ellipse cx="70.6" cy="89.2" rx="7" ry="5.5" fill="#2c70f0"/>
</g>
<rect x="0" y="105.8" width="91" height="20.5" fill="#0ce41a"/>
<rect x="21.4" y="0" width="48.2" height="126.3" fill="#0ce41a"/>
<line x1="32.8" y1="-1" x2="32.8" y2="19.4" stroke="#128a1e" stroke-width="0.7"/>
<line x1="58.6" y1="-1" x2="58.6" y2="19.4" stroke="#128a1e" stroke-width="0.7"/>
<rect x="33.5" y="-2.1" width="24.4" height="19.6" fill="none" stroke="#58f0c8" stroke-width="0.8" opacity="0.8"/>
<rect x="34.4" y="-1" width="22.6" height="17.4" fill="none" stroke="#128a1e" stroke-width="0.7"/>
<line x1="32.8" y1="30" x2="32.8" y2="51.6" stroke="#128a1e" stroke-width="0.7"/>
<line x1="58.6" y1="30" x2="58.6" y2="51.6" stroke="#128a1e" stroke-width="0.7"/>
<rect x="33.5" y="32.5" width="24.4" height="17.2" fill="none" stroke="#58f0c8" stroke-width="0.8" opacity="0.8"/>
<rect x="34.4" y="33.6" width="22.6" height="15" fill="none" stroke="#128a1e" stroke-width="0.7"/>
<line x1="32.8" y1="62.2" x2="32.8" y2="83.8" stroke="#128a1e" stroke-width="0.7"/>
<line x1="58.6" y1="62.2" x2="58.6" y2="83.8" stroke="#128a1e" stroke-width="0.7"/>
<rect x="33.5" y="64.7" width="24.4" height="17.2" fill="none" stroke="#58f0c8" stroke-width="0.8" opacity="0.8"/>
<rect x="34.4" y="65.8" width="22.6" height="15" fill="none" stroke="#128a1e" stroke-width="0.7"/>
<line x1="32.8" y1="94.6" x2="32.8" y2="115.8" stroke="#128a1e" stroke-width="0.7"/>
<line x1="58.6" y1="94.6" x2="58.6" y2="115.8" stroke="#128a1e" stroke-width="0.7"/>
<rect x="33.5" y="97.1" width="24.4" height="16.8" fill="none" stroke="#58f0c8" stroke-width="0.8" opacity="0.8"/>
<rect x="34.4" y="98.2" width="22.6" height="14.6" fill="none" stroke="#128a1e" stroke-width="0.7"/>
<line x1="44.2" y1="-1" x2="44.2" y2="5.8" stroke="#128a1e" stroke-width="0.6"/>
<line x1="47.2" y1="-1" x2="47.2" y2="5.8" stroke="#128a1e" stroke-width="0.6"/>
<line x1="44.2" y1="5.8" x2="47.2" y2="5.8" stroke="#128a1e" stroke-width="0.6"/>
<rect x="21.4" y="115.8" width="48.2" height="10.5" fill="#0ce41a"/>
<rect x="16.6" y="18.6" width="57.8" height="12.2" rx="2" fill="#1834ec" filter="url(#bl1)" opacity="0.85"/>
<g clip-path="url(#cpP1_b0)">
<rect x="17.4" y="19.4" width="56.2" height="10.6" fill="#1024ec"/>
<g filter="url(#bl1)">
<rect x="26.9" y="20.7" width="37.2" height="7.2" rx="3.6" fill="#30b8ff"/>
<ellipse cx="45.7" cy="24.3" rx="14.6" ry="2.6" fill="#50d8ff"/>
</g></g>
<rect x="21.4" y="19.4" width="48.2" height="10.6" fill="none" stroke="#0010a0" stroke-opacity="0.3" stroke-width="0.6"/>
<rect x="16.6" y="50.8" width="57.8" height="12.2" rx="2" fill="#1834ec" filter="url(#bl1)" opacity="0.85"/>
<g clip-path="url(#cpP1_b1)">
<rect x="17.4" y="51.6" width="56.2" height="10.6" fill="#1024ec"/>
<g filter="url(#bl1)">
<rect x="26.9" y="52.9" width="37.2" height="8" rx="4" fill="#30b8ff"/>
<ellipse cx="45.7" cy="56.9" rx="14.6" ry="3" fill="#50d8ff"/>
</g></g>
<rect x="21.4" y="51.6" width="48.2" height="10.6" fill="none" stroke="#0010a0" stroke-opacity="0.3" stroke-width="0.6"/>
<rect x="16.6" y="83" width="57.8" height="12.4" rx="2" fill="#1834ec" filter="url(#bl1)" opacity="0.85"/>
<g clip-path="url(#cpP1_b2)">
<rect x="17.4" y="83.8" width="56.2" height="10.8" fill="#1024ec"/>
<g filter="url(#bl1)">
<rect x="26.9" y="86.1" width="37.2" height="7.5" rx="3.75" fill="#30b8ff"/>
<ellipse cx="45.7" cy="89.85" rx="14.6" ry="2.75" fill="#50d8ff"/>
</g></g>
<rect x="21.4" y="83.8" width="48.2" height="10.8" fill="none" stroke="#0010a0" stroke-opacity="0.3" stroke-width="0.6"/>
<line x1="21.4" y1="0" x2="21.4" y2="126.3" stroke="#128a1e" stroke-width="0.6" stroke-opacity="0.8"/>
<line x1="69.6" y1="0" x2="69.6" y2="126.3" stroke="#128a1e" stroke-width="0.6" stroke-opacity="0.8"/>
<line x1="21.4" y1="19.4" x2="32.8" y2="19.4" stroke="#128a1e" stroke-width="0.5" stroke-opacity="0.55"/>
<line x1="58.6" y1="19.4" x2="69.6" y2="19.4" stroke="#128a1e" stroke-width="0.5" stroke-opacity="0.55"/>
<line x1="21.4" y1="30" x2="32.8" y2="30" stroke="#128a1e" stroke-width="0.5" stroke-opacity="0.55"/>
<line x1="58.6" y1="30" x2="69.6" y2="30" stroke="#128a1e" stroke-width="0.5" stroke-opacity="0.55"/>
<line x1="21.4" y1="51.6" x2="32.8" y2="51.6" stroke="#128a1e" stroke-width="0.5" stroke-opacity="0.55"/>
<line x1="58.6" y1="51.6" x2="69.6" y2="51.6" stroke="#128a1e" stroke-width="0.5" stroke-opacity="0.55"/>
<line x1="21.4" y1="62.2" x2="32.8" y2="62.2" stroke="#128a1e" stroke-width="0.5" stroke-opacity="0.55"/>
<line x1="58.6" y1="62.2" x2="69.6" y2="62.2" stroke="#128a1e" stroke-width="0.5" stroke-opacity="0.55"/>
<line x1="21.4" y1="83.8" x2="32.8" y2="83.8" stroke="#128a1e" stroke-width="0.5" stroke-opacity="0.55"/>
<line x1="58.6" y1="83.8" x2="69.6" y2="83.8" stroke="#128a1e" stroke-width="0.5" stroke-opacity="0.55"/>
<line x1="21.4" y1="94.6" x2="32.8" y2="94.6" stroke="#128a1e" stroke-width="0.5" stroke-opacity="0.55"/>
<line x1="58.6" y1="94.6" x2="69.6" y2="94.6" stroke="#128a1e" stroke-width="0.5" stroke-opacity="0.55"/>
<line x1="0" y1="105.8" x2="21.4" y2="105.8" stroke="#128a1e" stroke-width="0.6" stroke-opacity="0.8"/>
<line x1="69.6" y1="105.8" x2="91" y2="105.8" stroke="#128a1e" stroke-width="0.6" stroke-opacity="0.8"/>
<line x1="21.4" y1="115.8" x2="69.6" y2="115.8" stroke="#128a1e" stroke-width="0.6" stroke-opacity="0.8"/>
</g>
<polygon points="14.7,26 9.5,20.65 9.5,23.6 3.2,23.6 3.2,28.4 9.5,28.4 9.5,31.35" fill="#1018ec" stroke="#000" stroke-width="0.9"/>
<polygon points="76.3,26 81.5,20.65 81.5,23.6 87.8,23.6 87.8,28.4 81.5,28.4 81.5,31.35" fill="#1018ec" stroke="#000" stroke-width="0.9"/>
</g>
<g transform="translate(307,159.5)">
<g clip-path="url(#cpP2)">
<rect width="91" height="126.3" fill="#1ef0f2"/>
<g filter="url(#bl3)">
<rect x="-10" y="-10" width="111" height="23" fill="#30e850"/>
<ellipse cx="21.4" cy="9" rx="12" ry="13" fill="#30e850"/>
<ellipse cx="69.6" cy="9" rx="12" ry="13" fill="#30e850"/>
</g>
<g filter="url(#bl2)">
<ellipse cx="19.9" cy="40.8" rx="6" ry="8.3" fill="#44e858"/>
<ellipse cx="71.1" cy="40.8" rx="6" ry="8.3" fill="#44e858"/>
<ellipse cx="19.9" cy="73" rx="6" ry="8.3" fill="#44e858"/>
<ellipse cx="71.1" cy="73" rx="6" ry="8.3" fill="#44e858"/>
<ellipse cx="19.9" cy="105.2" rx="6" ry="8.1" fill="#44e858"/>
<ellipse cx="71.1" cy="105.2" rx="6" ry="8.1" fill="#44e858"/>
</g>
<g filter="url(#bl3)">
<ellipse cx="20.4" cy="24.7" rx="8" ry="5.5" fill="#2050f0"/>
<ellipse cx="70.6" cy="24.7" rx="8" ry="5.5" fill="#2050f0"/>
<ellipse cx="20.4" cy="56.9" rx="8" ry="5.5" fill="#2050f0"/>
<ellipse cx="70.6" cy="56.9" rx="8" ry="5.5" fill="#2050f0"/>
<ellipse cx="20.4" cy="89.2" rx="8" ry="5.5" fill="#2050f0"/>
<ellipse cx="70.6" cy="89.2" rx="8" ry="5.5" fill="#2050f0"/>
</g>
<rect x="0" y="105.8" width="91" height="20.5" fill="#0ce41a"/>
<rect x="21.4" y="0" width="48.2" height="126.3" fill="#0ce41a"/>
<line x1="32.8" y1="-1" x2="32.8" y2="19.4" stroke="#128a1e" stroke-width="0.7"/>
<line x1="58.6" y1="-1" x2="58.6" y2="19.4" stroke="#128a1e" stroke-width="0.7"/>
<rect x="33.5" y="-2.1" width="24.4" height="19.6" fill="none" stroke="#58f0c8" stroke-width="0.8" opacity="0.8"/>
<rect x="34.4" y="-1" width="22.6" height="17.4" fill="none" stroke="#128a1e" stroke-width="0.7"/>
<line x1="32.8" y1="30" x2="32.8" y2="51.6" stroke="#128a1e" stroke-width="0.7"/>
<line x1="58.6" y1="30" x2="58.6" y2="51.6" stroke="#128a1e" stroke-width="0.7"/>
<rect x="33.5" y="32.5" width="24.4" height="17.2" fill="none" stroke="#58f0c8" stroke-width="0.8" opacity="0.8"/>
<rect x="34.4" y="33.6" width="22.6" height="15" fill="none" stroke="#128a1e" stroke-width="0.7"/>
<line x1="32.8" y1="62.2" x2="32.8" y2="83.8" stroke="#128a1e" stroke-width="0.7"/>
<line x1="58.6" y1="62.2" x2="58.6" y2="83.8" stroke="#128a1e" stroke-width="0.7"/>
<rect x="33.5" y="64.7" width="24.4" height="17.2" fill="none" stroke="#58f0c8" stroke-width="0.8" opacity="0.8"/>
<rect x="34.4" y="65.8" width="22.6" height="15" fill="none" stroke="#128a1e" stroke-width="0.7"/>
<line x1="32.8" y1="94.6" x2="32.8" y2="115.8" stroke="#128a1e" stroke-width="0.7"/>
<line x1="58.6" y1="94.6" x2="58.6" y2="115.8" stroke="#128a1e" stroke-width="0.7"/>
<rect x="33.5" y="97.1" width="24.4" height="16.8" fill="none" stroke="#58f0c8" stroke-width="0.8" opacity="0.8"/>
<rect x="34.4" y="98.2" width="22.6" height="14.6" fill="none" stroke="#128a1e" stroke-width="0.7"/>
<line x1="44.2" y1="-1" x2="44.2" y2="5.8" stroke="#128a1e" stroke-width="0.6"/>
<line x1="47.2" y1="-1" x2="47.2" y2="5.8" stroke="#128a1e" stroke-width="0.6"/>
<line x1="44.2" y1="5.8" x2="47.2" y2="5.8" stroke="#128a1e" stroke-width="0.6"/>
<rect x="21.4" y="115.8" width="48.2" height="10.5" fill="#0ce41a"/>
<rect x="15.1" y="18" width="60.8" height="13.4" rx="2" fill="#1024e8" filter="url(#bl1)" opacity="0.85"/>
<g clip-path="url(#cpP2_b0)">
<rect x="15.9" y="19.4" width="59.2" height="10.6" fill="#0818e8"/>
<g filter="url(#bl1)">
<rect x="30.4" y="21" width="30.2" height="6.6" rx="3.3" fill="#2c68f4"/>
<ellipse cx="45.7" cy="24.3" rx="11.1" ry="2.3" fill="#4c90ff"/>
</g></g>
<rect x="21.4" y="19.4" width="48.2" height="10.6" fill="none" stroke="#0010a0" stroke-opacity="0.3" stroke-width="0.6"/>
<rect x="15.1" y="50.2" width="60.8" height="13.4" rx="2" fill="#1024e8" filter="url(#bl1)" opacity="0.85"/>
<g clip-path="url(#cpP2_b1)">
<rect x="15.9" y="51.6" width="59.2" height="10.6" fill="#0818e8"/>
<g filter="url(#bl1)">
<rect x="30.4" y="53.2" width="30.2" height="7.4" rx="3.7" fill="#2c68f4"/>
<ellipse cx="45.7" cy="56.9" rx="11.1" ry="2.7" fill="#4c90ff"/>
</g></g>
<rect x="21.4" y="51.6" width="48.2" height="10.6" fill="none" stroke="#0010a0" stroke-opacity="0.3" stroke-width="0.6"/>
<rect x="15.1" y="82.4" width="60.8" height="13.6" rx="2" fill="#1024e8" filter="url(#bl1)" opacity="0.85"/>
<g clip-path="url(#cpP2_b2)">
<rect x="15.9" y="83.8" width="59.2" height="10.8" fill="#0818e8"/>
<g filter="url(#bl1)">
<rect x="30.4" y="86.4" width="30.2" height="6.9" rx="3.45" fill="#2c68f4"/>
<ellipse cx="45.7" cy="89.85" rx="11.1" ry="2.45" fill="#4c90ff"/>
</g></g>
<rect x="21.4" y="83.8" width="48.2" height="10.8" fill="none" stroke="#0010a0" stroke-opacity="0.3" stroke-width="0.6"/>
<line x1="21.4" y1="0" x2="21.4" y2="126.3" stroke="#128a1e" stroke-width="0.6" stroke-opacity="0.8"/>
<line x1="69.6" y1="0" x2="69.6" y2="126.3" stroke="#128a1e" stroke-width="0.6" stroke-opacity="0.8"/>
<line x1="21.4" y1="19.4" x2="32.8" y2="19.4" stroke="#128a1e" stroke-width="0.5" stroke-opacity="0.55"/>
<line x1="58.6" y1="19.4" x2="69.6" y2="19.4" stroke="#128a1e" stroke-width="0.5" stroke-opacity="0.55"/>
<line x1="21.4" y1="30" x2="32.8" y2="30" stroke="#128a1e" stroke-width="0.5" stroke-opacity="0.55"/>
<line x1="58.6" y1="30" x2="69.6" y2="30" stroke="#128a1e" stroke-width="0.5" stroke-opacity="0.55"/>
<line x1="21.4" y1="51.6" x2="32.8" y2="51.6" stroke="#128a1e" stroke-width="0.5" stroke-opacity="0.55"/>
<line x1="58.6" y1="51.6" x2="69.6" y2="51.6" stroke="#128a1e" stroke-width="0.5" stroke-opacity="0.55"/>
<line x1="21.4" y1="62.2" x2="32.8" y2="62.2" stroke="#128a1e" stroke-width="0.5" stroke-opacity="0.55"/>
<line x1="58.6" y1="62.2" x2="69.6" y2="62.2" stroke="#128a1e" stroke-width="0.5" stroke-opacity="0.55"/>
<line x1="21.4" y1="83.8" x2="32.8" y2="83.8" stroke="#128a1e" stroke-width="0.5" stroke-opacity="0.55"/>
<line x1="58.6" y1="83.8" x2="69.6" y2="83.8" stroke="#128a1e" stroke-width="0.5" stroke-opacity="0.55"/>
<line x1="21.4" y1="94.6" x2="32.8" y2="94.6" stroke="#128a1e" stroke-width="0.5" stroke-opacity="0.55"/>
<line x1="58.6" y1="94.6" x2="69.6" y2="94.6" stroke="#128a1e" stroke-width="0.5" stroke-opacity="0.55"/>
<line x1="0" y1="105.8" x2="21.4" y2="105.8" stroke="#128a1e" stroke-width="0.6" stroke-opacity="0.8"/>
<line x1="69.6" y1="105.8" x2="91" y2="105.8" stroke="#128a1e" stroke-width="0.6" stroke-opacity="0.8"/>
<line x1="21.4" y1="115.8" x2="69.6" y2="115.8" stroke="#128a1e" stroke-width="0.6" stroke-opacity="0.8"/>
</g>
<polygon points="14.8,26.7 8.3,15.8 8.3,21.7 3.1,21.7 3.1,31.7 8.3,31.7 8.3,37.6" fill="#1018ec" stroke="#000" stroke-width="0.9"/>
<polygon points="76.2,26.7 82.7,15.8 82.7,21.7 87.9,21.7 87.9,31.7 82.7,31.7 82.7,37.6" fill="#1018ec" stroke="#000" stroke-width="0.9"/>
</g>
<circle cx="86" cy="12.3" r="4.7" fill="#fff" stroke="#000" stroke-width="2"/>
<circle cx="86" cy="12.3" r="1.9" fill="#000"/>
<line x1="91.5" y1="12.3" x2="98.5" y2="12.3" stroke="#000" stroke-width="1.4"/>
<polygon points="102.6,12.3 97.8,9.6 97.8,15" fill="#000"/>
<line x1="86" y1="17.8" x2="86" y2="23.8" stroke="#000" stroke-width="1.4"/>
<polygon points="86,28.2 83.3,23.3 88.7,23.3" fill="#000"/>
<text x="71.7" y="15.2" font-family="'Liberation Sans', Arial, sans-serif" font-size="8.5" font-weight="bold" text-anchor="start" fill="#000" >Y</text>
<text x="106.7" y="15.2" font-family="'Liberation Sans', Arial, sans-serif" font-size="8.5" font-weight="bold" text-anchor="start" fill="#000" >Z</text>
<text x="86.3" y="37.2" font-family="'Liberation Sans', Arial, sans-serif" font-size="8.5" font-weight="bold" text-anchor="middle" fill="#000" >X</text>
<circle cx="92.7" cy="163.3" r="4.7" fill="#fff" stroke="#000" stroke-width="2"/>
<circle cx="92.7" cy="163.3" r="1.9" fill="#000"/>
<line x1="98.2" y1="163.3" x2="105.2" y2="163.3" stroke="#000" stroke-width="1.4"/>
<polygon points="109.3,163.3 104.5,160.6 104.5,166" fill="#000"/>
<line x1="92.7" y1="168.8" x2="92.7" y2="174.8" stroke="#000" stroke-width="1.4"/>
<polygon points="92.7,179.2 90,174.3 95.4,174.3" fill="#000"/>
<text x="78.6" y="166.2" font-family="'Liberation Sans', Arial, sans-serif" font-size="8.5" font-weight="bold" text-anchor="start" fill="#000" >Y</text>
<text x="113.1" y="166.2" font-family="'Liberation Sans', Arial, sans-serif" font-size="8.5" font-weight="bold" text-anchor="start" fill="#000" >Z</text>
<text x="93" y="188.4" font-family="'Liberation Sans', Arial, sans-serif" font-size="8.5" font-weight="bold" text-anchor="middle" fill="#000" >X</text>
<text x="47.4" y="33.2" font-family="'Liberation Serif', 'Times New Roman', serif" font-size="13.2" fill="#111">(<tspan font-weight="bold">a</tspan>)</text>
<text x="103.5" y="149.5" font-family="'Liberation Sans', Arial, sans-serif" font-size="13.8" font-weight="bold">T<tspan font-size="9" dy="3.3">Si<tspan fill="#f2f2f2">_</tspan>E</tspan><tspan dy="-3.3"> = 0 nm</tspan></text>
<text x="101.9" y="303.8" font-family="'Liberation Sans', Arial, sans-serif" font-size="13.8" font-weight="bold">T<tspan font-size="9" dy="3.3">Si_E</tspan><tspan dy="-3.3"> = 0 nm</tspan></text>
<text x="211" y="149.5" font-family="'Liberation Sans', Arial, sans-serif" font-size="13.8" font-weight="bold">T<tspan font-size="9" dy="3.3">Si<tspan fill="#f2f2f2">_</tspan>E</tspan><tspan dy="-3.3"> = 2 nm</tspan></text>
<text x="211" y="303.8" font-family="'Liberation Sans', Arial, sans-serif" font-size="13.8" font-weight="bold">T<tspan font-size="9" dy="3.3">Si_E</tspan><tspan dy="-3.3"> = 2 nm</tspan></text>
<text x="315.8" y="149.5" font-family="'Liberation Sans', Arial, sans-serif" font-size="13.8" font-weight="bold">T<tspan font-size="9" dy="3.3">Si<tspan fill="#f2f2f2">_</tspan>E</tspan><tspan dy="-3.3"> = 4 nm</tspan></text>
<text x="314.4" y="303.8" font-family="'Liberation Sans', Arial, sans-serif" font-size="13.8" font-weight="bold">T<tspan font-size="9" dy="3.3">Si_E</tspan><tspan dy="-3.3"> = 4 nm</tspan></text>
<text x="403.2" y="18" font-family="'Liberation Sans', Arial, sans-serif" font-size="13.5" font-weight="bold" text-anchor="start" fill="#000" >NFETs</text>
<text x="402" y="33.4" font-family="'Liberation Sans', Arial, sans-serif" font-size="6.6" font-weight="bold" text-anchor="start" fill="#000" >Stress-ZZ (Pa)</text>
<rect x="403.5" y="38" width="10" height="90.5" fill="url(#cbar)"/>
<text x="419.8" y="45.1" font-family="'DejaVu Serif', 'Liberation Serif', serif" font-size="9" font-weight="bold" text-anchor="start" fill="#161616" textLength="13" lengthAdjust="spacingAndGlyphs">1.3</text>
<text x="440.2" y="46" font-family="'Liberation Sans', Arial, sans-serif" font-size="15.5" font-weight="normal" text-anchor="middle" fill="#161616" >&#215;</text>
<text x="448.2" y="45.1" font-family="'DejaVu Serif', 'Liberation Serif', serif" font-size="9" font-weight="bold" text-anchor="start" fill="#161616" textLength="11.2" lengthAdjust="spacingAndGlyphs">10</text>
<text x="459.4" y="41.2" font-family="'DejaVu Serif', 'Liberation Serif', serif" font-size="5.6" font-weight="bold" text-anchor="start" fill="#161616" >9</text>
<text x="419.8" y="65.12" font-family="'DejaVu Serif', 'Liberation Serif', serif" font-size="9" font-weight="bold" text-anchor="start" fill="#161616" textLength="13" lengthAdjust="spacingAndGlyphs">6.5</text>
<text x="440.2" y="66.03" font-family="'Liberation Sans', Arial, sans-serif" font-size="15.5" font-weight="normal" text-anchor="middle" fill="#161616" >&#215;</text>
<text x="448.2" y="65.12" font-family="'DejaVu Serif', 'Liberation Serif', serif" font-size="9" font-weight="bold" text-anchor="start" fill="#161616" textLength="11.2" lengthAdjust="spacingAndGlyphs">10</text>
<text x="459.4" y="61.23" font-family="'DejaVu Serif', 'Liberation Serif', serif" font-size="5.6" font-weight="bold" text-anchor="start" fill="#161616" >8</text>
<text x="419.8" y="87.35" font-family="'DejaVu Serif', 'Liberation Serif', serif" font-size="9" font-weight="bold" text-anchor="start" fill="#161616" textLength="4.6" lengthAdjust="spacingAndGlyphs">0</text>
<text x="419.3" y="109.47" font-family="'DejaVu Serif', 'Liberation Serif', serif" font-size="9" font-weight="bold" text-anchor="start" fill="#161616" textLength="5.2" lengthAdjust="spacingAndGlyphs">&#8722;</text>
<text x="424.4" y="109.47" font-family="'DejaVu Serif', 'Liberation Serif', serif" font-size="9" font-weight="bold" text-anchor="start" fill="#161616" textLength="13" lengthAdjust="spacingAndGlyphs">6.5</text>
<text x="445" y="110.38" font-family="'Liberation Sans', Arial, sans-serif" font-size="15.5" font-weight="normal" text-anchor="middle" fill="#161616" >&#215;</text>
<text x="452.8" y="109.47" font-family="'DejaVu Serif', 'Liberation Serif', serif" font-size="9" font-weight="bold" text-anchor="start" fill="#161616" textLength="11.2" lengthAdjust="spacingAndGlyphs">10</text>
<text x="463.4" y="105.57" font-family="'DejaVu Serif', 'Liberation Serif', serif" font-size="5.6" font-weight="bold" text-anchor="start" fill="#161616" >8</text>
<text x="419.3" y="129.4" font-family="'DejaVu Serif', 'Liberation Serif', serif" font-size="9" font-weight="bold" text-anchor="start" fill="#161616" textLength="5.2" lengthAdjust="spacingAndGlyphs">&#8722;</text>
<text x="424.4" y="129.4" font-family="'DejaVu Serif', 'Liberation Serif', serif" font-size="9" font-weight="bold" text-anchor="start" fill="#161616" textLength="13" lengthAdjust="spacingAndGlyphs">1.3</text>
<text x="445" y="130.3" font-family="'Liberation Sans', Arial, sans-serif" font-size="15.5" font-weight="normal" text-anchor="middle" fill="#161616" >&#215;</text>
<text x="452.8" y="129.4" font-family="'DejaVu Serif', 'Liberation Serif', serif" font-size="9" font-weight="bold" text-anchor="start" fill="#161616" textLength="11.2" lengthAdjust="spacingAndGlyphs">10</text>
<text x="463.4" y="125.5" font-family="'DejaVu Serif', 'Liberation Serif', serif" font-size="5.6" font-weight="bold" text-anchor="start" fill="#161616" >9</text>
<text x="403.7" y="171" font-family="'Liberation Sans', Arial, sans-serif" font-size="13.5" font-weight="bold" text-anchor="start" fill="#000" >PFETs</text>
<text x="402.5" y="184.9" font-family="'Liberation Sans', Arial, sans-serif" font-size="6.6" font-weight="bold" text-anchor="start" fill="#000" >Stress-ZZ (Pa)</text>
<rect x="404" y="189.5" width="10" height="92.5" fill="url(#cbar)"/>
<text x="420.3" y="196.6" font-family="'DejaVu Serif', 'Liberation Serif', serif" font-size="9" font-weight="bold" text-anchor="start" fill="#161616" textLength="13" lengthAdjust="spacingAndGlyphs">2.6</text>
<text x="440.7" y="197.5" font-family="'Liberation Sans', Arial, sans-serif" font-size="15.5" font-weight="normal" text-anchor="middle" fill="#161616" >&#215;</text>
<text x="448.7" y="196.6" font-family="'DejaVu Serif', 'Liberation Serif', serif" font-size="9" font-weight="bold" text-anchor="start" fill="#161616" textLength="11.2" lengthAdjust="spacingAndGlyphs">10</text>
<text x="459.9" y="192.7" font-family="'DejaVu Serif', 'Liberation Serif', serif" font-size="5.6" font-weight="bold" text-anchor="start" fill="#161616" >9</text>
<text x="420.3" y="217.12" font-family="'DejaVu Serif', 'Liberation Serif', serif" font-size="9" font-weight="bold" text-anchor="start" fill="#161616" textLength="13" lengthAdjust="spacingAndGlyphs">1.3</text>
<text x="440.7" y="218.03" font-family="'Liberation Sans', Arial, sans-serif" font-size="15.5" font-weight="normal" text-anchor="middle" fill="#161616" >&#215;</text>
<text x="448.7" y="217.12" font-family="'DejaVu Serif', 'Liberation Serif', serif" font-size="9" font-weight="bold" text-anchor="start" fill="#161616" textLength="11.2" lengthAdjust="spacingAndGlyphs">10</text>
<text x="459.9" y="213.22" font-family="'DejaVu Serif', 'Liberation Serif', serif" font-size="5.6" font-weight="bold" text-anchor="start" fill="#161616" >9</text>
<text x="420.3" y="239.85" font-family="'DejaVu Serif', 'Liberation Serif', serif" font-size="9" font-weight="bold" text-anchor="start" fill="#161616" textLength="4.6" lengthAdjust="spacingAndGlyphs">0</text>
<text x="419.8" y="262.48" font-family="'DejaVu Serif', 'Liberation Serif', serif" font-size="9" font-weight="bold" text-anchor="start" fill="#161616" textLength="5.2" lengthAdjust="spacingAndGlyphs">&#8722;</text>
<text x="424.9" y="262.48" font-family="'DejaVu Serif', 'Liberation Serif', serif" font-size="9" font-weight="bold" text-anchor="start" fill="#161616" textLength="13" lengthAdjust="spacingAndGlyphs">1.3</text>
<text x="445.5" y="263.38" font-family="'Liberation Sans', Arial, sans-serif" font-size="15.5" font-weight="normal" text-anchor="middle" fill="#161616" >&#215;</text>
<text x="453.3" y="262.48" font-family="'DejaVu Serif', 'Liberation Serif', serif" font-size="9" font-weight="bold" text-anchor="start" fill="#161616" textLength="11.2" lengthAdjust="spacingAndGlyphs">10</text>
<text x="463.9" y="258.58" font-family="'DejaVu Serif', 'Liberation Serif', serif" font-size="5.6" font-weight="bold" text-anchor="start" fill="#161616" >9</text>
<text x="419.8" y="282.9" font-family="'DejaVu Serif', 'Liberation Serif', serif" font-size="9" font-weight="bold" text-anchor="start" fill="#161616" textLength="5.2" lengthAdjust="spacingAndGlyphs">&#8722;</text>
<text x="424.9" y="282.9" font-family="'DejaVu Serif', 'Liberation Serif', serif" font-size="9" font-weight="bold" text-anchor="start" fill="#161616" textLength="13" lengthAdjust="spacingAndGlyphs">2.6</text>
<text x="445.5" y="283.8" font-family="'Liberation Sans', Arial, sans-serif" font-size="15.5" font-weight="normal" text-anchor="middle" fill="#161616" >&#215;</text>
<text x="453.3" y="282.9" font-family="'DejaVu Serif', 'Liberation Serif', serif" font-size="9" font-weight="bold" text-anchor="start" fill="#161616" textLength="11.2" lengthAdjust="spacingAndGlyphs">10</text>
<text x="463.9" y="279" font-family="'DejaVu Serif', 'Liberation Serif', serif" font-size="5.6" font-weight="bold" text-anchor="start" fill="#161616" >9</text>
<text x="2.5" y="326" font-family="'Liberation Serif', 'Times New Roman', serif" font-size="13.2" fill="#111">(<tspan font-weight="bold">b</tspan>)</text>
<rect x="84" y="336" width="32.6" height="183.2" fill="#fce5b0"/>
<rect x="164.9" y="336" width="32.6" height="183.2" fill="#fce5b0"/>
<g clip-path="url(#pclip)">
<polyline points="48,494.7 56.4,496.8 59.6,495.8 63.8,491.6 68,485.3 72.2,475.8 75.4,465.3 78.5,461 81.7,464.2 83.8,470.5 84.8,475.8 87,474.7 89,477.9 91.2,484.2 93.3,487.4 96.4,487.8 100.6,484.2 104.8,479 109,470.5 113.3,457.9 115,455.8 117.5,446.3 119.7,442.8 124.5,442.2 131.2,436.8 136.3,431 138.6,426.9 139.8,423 142.2,431 145.7,436.9 151.6,440.5 157.6,441 161.1,444 163.5,449.9 166.6,460 171.8,470.5 177.1,480 181.3,483.2 186.6,486.3 189.7,481 194,476.4 195.9,478.2 197.7,465.5 200.5,461.8 203.2,463.6 205.9,469.1 208.6,478.2 212.3,487.3 215.9,491.8 219.5,494.5 225,495.5 232.4,495.5" fill="none" stroke="#000" stroke-width="2.4" stroke-linejoin="round" stroke-linecap="round"/>
<polyline points="48,491.6 58.5,491.6 62.7,487.4 67,481 71.2,470.5 74.3,461 77.5,454.7 80.6,456.8 82.7,462 84.8,471.6 87,473.7 89,474.7 91.2,480 93.3,483.2 96.4,484.2 100.6,481 104.8,474.7 109,464.2 113.3,451.6 115,446.4 117.5,436.8 119.7,429.2 124.5,428 129,427.4 132.7,423.9 136.3,418 138,413.3 139.8,410 142.2,414.5 144.6,420.4 149.3,425.1 155.2,427.5 159.9,429.2 162.3,434.5 164.6,440.5 166.6,449.5 170.8,460 175,470.5 179.2,477.9 183.4,478.9 186.6,481 189.7,475.8 191.4,472.7 194,471.8 195.9,474 196.8,461.8 199.5,454.5 202.3,456.4 205,460 207.7,467.3 210.5,476.4 214.1,483.6 217.7,488.2 221.4,490.9 232.4,491.6" fill="none" stroke="#f00" stroke-width="2.4" stroke-linejoin="round" stroke-linecap="round"/>
<polyline points="48,483.2 54.3,482.1 60.6,476.8 64.8,473.7 69,465.3 73.3,455.8 77.5,443.2 81.7,430.5 84.8,418 88,407.6 90.1,406.6 92.2,410.8 94.3,422.4 96,432.6 97.5,439.2 99.6,447.4 102.7,446.3 107,439 111.2,430.5 115.4,417 119.6,403.4 122.7,402.4 126.5,401.4 130,399.5 133.1,398.1 136.3,389.4 139.7,381 143.4,392.7 147.2,398.1 152.7,402 158.2,402.4 161.3,405.5 164.5,416 168.7,427.6 172.9,436.1 177.1,442.4 180.3,447.6 182.4,443.4 185,436 186.8,414.5 187.7,408.2 190.5,407.3 193.2,412.7 195,417.3 197.7,427.3 201.4,438.2 205,449.1 208.6,458.2 212.3,465.5 215.9,471.8 218.6,474.5 221.4,478.2 225,481.8 232.4,483.6" fill="none" stroke="#00f" stroke-width="2.4" stroke-linejoin="round" stroke-linecap="round"/>
<polyline points="48,473.7 52.2,472.6 58.5,468.4 62.7,463.2 65.9,459 69,451.6 72.2,443.2 75.4,432.6 79.2,420 81.7,412 84.8,402 88,390 91.2,379 93.5,370 94.7,367.5 96.5,368.5 98.5,371 101.7,378.2 104.4,386.6 107,394 110.1,399.6 113.3,398.2 115.5,393 117.5,387 120.6,381.3 126.5,380.2 130.1,379.2 133.1,377.4 136.3,370.9 139.6,364.9 142.9,370.9 146.2,377.4 152.7,380.2 158.2,381.3 161.3,383.4 164.5,391.8 167.6,399.2 170.8,400.3 173.9,396.1 177.1,380.3 180.3,370.8 182.4,370.8 185.5,366.6 187.6,374 190.8,384.5 195,397.1 199.5,410.9 203.2,421.8 206.8,432.7 210.5,445.5 214.1,449.1 216.8,454.5 219.5,463.6 222.3,469.1 225.9,470.9 232.4,474" fill="none" stroke="#f0f" stroke-width="2.4" stroke-linejoin="round" stroke-linecap="round"/>
</g>
<line x1="140.5" y1="454.3" x2="140.5" y2="380" stroke="#000" stroke-width="3.8" stroke-linecap="round"/>
<polygon points="140.1,373.4 135.2,382.6 145,382.6" fill="#000"/>
<text x="124.6" y="464.7" font-family="'Liberation Sans', Arial, sans-serif" font-size="14" font-weight="bold">T<tspan font-size="9.8" dy="3.2">Si_E</tspan></text>
<text x="157.9" y="467.6" font-family="'DejaVu Sans', sans-serif" font-size="14.5" fill="#555" stroke="#555" stroke-width="0.7" text-anchor="middle" textLength="8.6" lengthAdjust="spacingAndGlyphs">&#8593;</text>
<text x="88.3" y="501.4" font-family="'Liberation Sans', Arial, sans-serif" font-size="10.7" font-weight="bold" fill="#111">large increase in |S<tspan font-size="8" dy="2">ZZ</tspan><tspan dy="-2">|</tspan></text>
<text x="87.6" y="512.8" font-family="'Liberation Sans', Arial, sans-serif" font-size="10.65" font-weight="bold" text-anchor="start" fill="#111" >under the inner spacer</text>
<rect x="48.6" y="325.7" width="183.8" height="193.5" fill="none" stroke="#000" stroke-width="1"/>
<line x1="48.1" y1="519.2" x2="232.9" y2="519.2" stroke="#000" stroke-width="1.2"/>
<line x1="48.6" y1="336" x2="232.4" y2="336" stroke="#000" stroke-width="1"/>
<text x="55.9" y="333.7" font-family="'Liberation Sans', Arial, sans-serif" font-size="8.2" font-weight="bold" fill="#000" stroke="#000" stroke-width="0.3" textLength="24.2" lengthAdjust="spacingAndGlyphs">Source</text>
<text x="88.3" y="333.7" font-family="'Liberation Sans', Arial, sans-serif" font-size="8.2" font-weight="bold" fill="#f00" stroke="#f00" stroke-width="0.3" textLength="23.5" lengthAdjust="spacingAndGlyphs">Spacer</text>
<text x="132.2" y="333.7" font-family="'Liberation Sans', Arial, sans-serif" font-size="8.2" font-weight="bold" fill="#000" stroke="#000" stroke-width="0.3" textLength="16.5" lengthAdjust="spacingAndGlyphs">Gate</text>
<text x="171.3" y="333.7" font-family="'Liberation Sans', Arial, sans-serif" font-size="8.2" font-weight="bold" fill="#f00" stroke="#f00" stroke-width="0.3" textLength="23.8" lengthAdjust="spacingAndGlyphs">Spacer</text>
<text x="205.6" y="333.7" font-family="'Liberation Sans', Arial, sans-serif" font-size="8.2" font-weight="bold" fill="#000" stroke="#000" stroke-width="0.3" textLength="19.6" lengthAdjust="spacingAndGlyphs">Drain</text>
<line x1="53.2" y1="341.7" x2="69.6" y2="341.7" stroke="#000" stroke-width="1.8"/>
<text x="72.3" y="344.6" font-family="'Liberation Sans', Arial, sans-serif" font-size="7.6" font-weight="bold" text-anchor="start" fill="#000" >RTA</text>
<line x1="53.2" y1="353.4" x2="69.6" y2="353.4" stroke="#00f" stroke-width="1.8"/>
<text x="72.3" y="356.1" font-family="'Liberation Sans', Arial, sans-serif" font-size="7.6" font-weight="bold">LSA (T<tspan font-size="5.2" dy="1.6">Si_E</tspan><tspan dy="-1.6"> = 2 nm)</tspan></text>
<line x1="142" y1="341.6" x2="159.4" y2="341.6" stroke="#f00" stroke-width="1.8"/>
<text x="160.9" y="344.5" font-family="'Liberation Sans', Arial, sans-serif" font-size="7.6" font-weight="bold">LSA (T<tspan font-size="5.2" dy="1.6">Si_E</tspan><tspan dy="-1.6"> = 0 nm)</tspan></text>
<line x1="142" y1="353.2" x2="159.4" y2="353.2" stroke="#f0f" stroke-width="1.8"/>
<text x="160.9" y="356" font-family="'Liberation Sans', Arial, sans-serif" font-size="7.6" font-weight="bold">LSA (T<tspan font-size="5.2" dy="1.6">Si_E</tspan><tspan dy="-1.6"> = 4 nm)</tspan></text>
<text x="46.1" y="338.48" font-family="'Liberation Sans', Arial, sans-serif" font-size="11" font-weight="bold" text-anchor="end" fill="#000" >1.5</text>
<line x1="48.6" y1="357.92" x2="50.4" y2="357.92" stroke="#000" stroke-width="1"/>
<line x1="48.6" y1="380.96" x2="51.9" y2="380.96" stroke="#000" stroke-width="1"/>
<text x="46.1" y="384.56" font-family="'Liberation Sans', Arial, sans-serif" font-size="11" font-weight="bold" text-anchor="end" fill="#000" >1.2</text>
<line x1="48.6" y1="404" x2="50.4" y2="404" stroke="#000" stroke-width="1"/>
<line x1="48.6" y1="427.04" x2="51.9" y2="427.04" stroke="#000" stroke-width="1"/>
<text x="46.1" y="430.64" font-family="'Liberation Sans', Arial, sans-serif" font-size="11" font-weight="bold" text-anchor="end" fill="#000" >0.9</text>
<line x1="48.6" y1="450.08" x2="50.4" y2="450.08" stroke="#000" stroke-width="1"/>
<line x1="48.6" y1="473.12" x2="51.9" y2="473.12" stroke="#000" stroke-width="1"/>
<text x="46.1" y="476.72" font-family="'Liberation Sans', Arial, sans-serif" font-size="11" font-weight="bold" text-anchor="end" fill="#000" >0.6</text>
<line x1="48.6" y1="496.16" x2="50.4" y2="496.16" stroke="#000" stroke-width="1"/>
<text x="46.1" y="522.8" font-family="'Liberation Sans', Arial, sans-serif" font-size="11" font-weight="bold" text-anchor="end" fill="#000" >0.3</text>
<line x1="58.92" y1="519.2" x2="58.92" y2="515.9" stroke="#000" stroke-width="1"/>
<text x="57.92" y="530" font-family="'Liberation Sans', Arial, sans-serif" font-size="11" font-weight="bold" text-anchor="middle" fill="#000" >&#8722;16</text>
<line x1="99.8" y1="519.2" x2="99.8" y2="515.9" stroke="#000" stroke-width="1"/>
<text x="98.8" y="530" font-family="'Liberation Sans', Arial, sans-serif" font-size="11" font-weight="bold" text-anchor="middle" fill="#000" >&#8722;8</text>
<line x1="140.68" y1="519.2" x2="140.68" y2="515.9" stroke="#000" stroke-width="1"/>
<text x="140.68" y="530" font-family="'Liberation Sans', Arial, sans-serif" font-size="11" font-weight="bold" text-anchor="middle" fill="#000" >0</text>
<line x1="181.56" y1="519.2" x2="181.56" y2="515.9" stroke="#000" stroke-width="1"/>
<text x="181.56" y="530" font-family="'Liberation Sans', Arial, sans-serif" font-size="11" font-weight="bold" text-anchor="middle" fill="#000" >8</text>
<line x1="222.44" y1="519.2" x2="222.44" y2="515.9" stroke="#000" stroke-width="1"/>
<text x="222.44" y="530" font-family="'Liberation Sans', Arial, sans-serif" font-size="11" font-weight="bold" text-anchor="middle" fill="#000" >16</text>
<line x1="79.36" y1="519.2" x2="79.36" y2="517.4" stroke="#000" stroke-width="1"/>
<line x1="120.24" y1="519.2" x2="120.24" y2="517.4" stroke="#000" stroke-width="1"/>
<line x1="161.12" y1="519.2" x2="161.12" y2="517.4" stroke="#000" stroke-width="1"/>
<line x1="202" y1="519.2" x2="202" y2="517.4" stroke="#000" stroke-width="1"/>
<text x="145.8" y="544.6" font-family="'Liberation Sans', Arial, sans-serif" font-size="11" font-weight="bold" text-anchor="middle" fill="#000" >Position (nm)</text>
<text x="0" y="0" font-family="'Liberation Sans', Arial, sans-serif" font-size="10.7" font-weight="bold" text-anchor="middle" fill="#000" transform="translate(21.5,421) rotate(-90)">Stress-ZZ (Gpa)</text>
<text x="267.6" y="329" font-family="'Liberation Serif', 'Times New Roman', serif" font-size="13.2" fill="#111">(<tspan font-weight="bold">c</tspan>)</text>
<rect x="295.9" y="454.12" width="24.5" height="63.08" fill="#000" stroke="#1a1a1a" stroke-width="0.6"/>
<rect x="320.6" y="442.17" width="24.5" height="75.03" fill="#f00" stroke="#1a1a1a" stroke-width="0.6"/>
<rect x="344.7" y="431.28" width="24.5" height="85.92" fill="#00f" stroke="#1a1a1a" stroke-width="0.6"/>
<rect x="387.1" y="402.33" width="24.5" height="114.87" fill="#000" stroke="#1a1a1a" stroke-width="0.6"/>
<rect x="411.7" y="380.81" width="24.5" height="136.39" fill="#f00" stroke="#1a1a1a" stroke-width="0.6"/>
<rect x="436" y="362.49" width="24.5" height="154.71" fill="#00f" stroke="#1a1a1a" stroke-width="0.6"/>
<rect x="287.2" y="335.4" width="182" height="181.8" fill="none" stroke="#000" stroke-width="1.2"/>
<text x="283" y="520.9" font-family="'Liberation Sans', Arial, sans-serif" font-size="11" font-weight="bold" text-anchor="end" fill="#000" >0.0</text>
<line x1="287.2" y1="500.6" x2="289.8" y2="500.6" stroke="#000" stroke-width="1.1"/>
<line x1="466.6" y1="500.6" x2="469.2" y2="500.6" stroke="#000" stroke-width="1.1"/>
<line x1="287.2" y1="484" x2="291.8" y2="484" stroke="#000" stroke-width="1.1"/>
<line x1="464.6" y1="484" x2="469.2" y2="484" stroke="#000" stroke-width="1.1"/>
<text x="283" y="487.7" font-family="'Liberation Sans', Arial, sans-serif" font-size="11" font-weight="bold" text-anchor="end" fill="#000" >0.5</text>
<line x1="287.2" y1="467.4" x2="289.8" y2="467.4" stroke="#000" stroke-width="1.1"/>
<line x1="466.6" y1="467.4" x2="469.2" y2="467.4" stroke="#000" stroke-width="1.1"/>
<line x1="287.2" y1="450.8" x2="291.8" y2="450.8" stroke="#000" stroke-width="1.1"/>
<line x1="464.6" y1="450.8" x2="469.2" y2="450.8" stroke="#000" stroke-width="1.1"/>
<text x="283" y="454.5" font-family="'Liberation Sans', Arial, sans-serif" font-size="11" font-weight="bold" text-anchor="end" fill="#000" >1.0</text>
<line x1="287.2" y1="434.2" x2="289.8" y2="434.2" stroke="#000" stroke-width="1.1"/>
<line x1="466.6" y1="434.2" x2="469.2" y2="434.2" stroke="#000" stroke-width="1.1"/>
<line x1="287.2" y1="417.6" x2="291.8" y2="417.6" stroke="#000" stroke-width="1.1"/>
<line x1="464.6" y1="417.6" x2="469.2" y2="417.6" stroke="#000" stroke-width="1.1"/>
<text x="283" y="421.3" font-family="'Liberation Sans', Arial, sans-serif" font-size="11" font-weight="bold" text-anchor="end" fill="#000" >1.5</text>
<line x1="287.2" y1="401" x2="289.8" y2="401" stroke="#000" stroke-width="1.1"/>
<line x1="466.6" y1="401" x2="469.2" y2="401" stroke="#000" stroke-width="1.1"/>
<line x1="287.2" y1="384.4" x2="291.8" y2="384.4" stroke="#000" stroke-width="1.1"/>
<line x1="464.6" y1="384.4" x2="469.2" y2="384.4" stroke="#000" stroke-width="1.1"/>
<text x="283" y="388.1" font-family="'Liberation Sans', Arial, sans-serif" font-size="11" font-weight="bold" text-anchor="end" fill="#000" >2.0</text>
<line x1="287.2" y1="367.8" x2="289.8" y2="367.8" stroke="#000" stroke-width="1.1"/>
<line x1="466.6" y1="367.8" x2="469.2" y2="367.8" stroke="#000" stroke-width="1.1"/>
<line x1="287.2" y1="351.2" x2="291.8" y2="351.2" stroke="#000" stroke-width="1.1"/>
<line x1="464.6" y1="351.2" x2="469.2" y2="351.2" stroke="#000" stroke-width="1.1"/>
<text x="283" y="354.9" font-family="'Liberation Sans', Arial, sans-serif" font-size="11" font-weight="bold" text-anchor="end" fill="#000" >2.5</text>
<text x="333.8" y="532.4" font-family="'Liberation Sans', Arial, sans-serif" font-size="10.4" font-weight="bold" text-anchor="middle" fill="#000" >NFETs</text>
<text x="428.3" y="532.4" font-family="'Liberation Sans', Arial, sans-serif" font-size="10.4" font-weight="bold" text-anchor="middle" fill="#000" >PFETs</text>
<text x="0" y="0" font-family="'Liberation Sans', Arial, sans-serif" font-size="10.8" font-weight="bold" text-anchor="middle" fill="#000" transform="translate(260.6,421.4) rotate(-90)">|Stress-ZZ| (Gpa)</text>
<rect x="292.6" y="339.6" width="21.2" height="10.2" fill="#000" stroke="#333" stroke-width="0.6"/>
<text x="316.2" y="348.6" font-family="'Liberation Sans', Arial, sans-serif" font-size="9.9" font-weight="bold">T<tspan font-size="6.4" dy="2">Si_E</tspan><tspan dy="-2"> = 0 nm</tspan></text>
<rect x="292.6" y="354" width="21.2" height="10.2" fill="#f00" stroke="#333" stroke-width="0.6"/>
<text x="316.2" y="363" font-family="'Liberation Sans', Arial, sans-serif" font-size="9.9" font-weight="bold">T<tspan font-size="6.4" dy="2">Si_E</tspan><tspan dy="-2"> = 2 nm</tspan></text>
<rect x="292.6" y="368.4" width="21.2" height="10.2" fill="#00f" stroke="#333" stroke-width="0.6"/>
<text x="316.2" y="377.4" font-family="'Liberation Sans', Arial, sans-serif" font-size="9.9" font-weight="bold">T<tspan font-size="6.4" dy="2">Si_E</tspan><tspan dy="-2"> = 4 nm</tspan></text>
<path d="M305.5,446.9 Q318,430 341.5,424.3" fill="none" stroke="#000" stroke-width="2.5"/>
<polygon points="347,424.2 340.6,420.9 340.6,427.5" fill="#000"/>
<text font-family="'Liberation Sans', Arial, sans-serif" font-size="10.9" font-weight="bold" transform="translate(297.3,437.3) rotate(-31)">|S<tspan font-size="7.8" dy="2">ZZ</tspan><tspan dy="-2">| 27%</tspan><tspan font-weight="normal" font-size="14" fill="#222" dx="2" dy="0.6">&#8593;</tspan></text>
<path d="M396.5,394.5 Q410,367 434.5,357.8" fill="none" stroke="#000" stroke-width="2.5"/>
<polygon points="440.3,356.5 433.2,354.2 434.6,361" fill="#000"/>
<text font-family="'Liberation Sans', Arial, sans-serif" font-size="10.9" font-weight="bold" transform="translate(390.2,385.2) rotate(-46)">|S<tspan font-size="7.8" dy="2">ZZ</tspan><tspan dy="-2">| 26%</tspan><tspan font-weight="normal" font-size="14" fill="#222" dx="2" dy="0.6">&#8593;</tspan></text>
</svg></body></html>
